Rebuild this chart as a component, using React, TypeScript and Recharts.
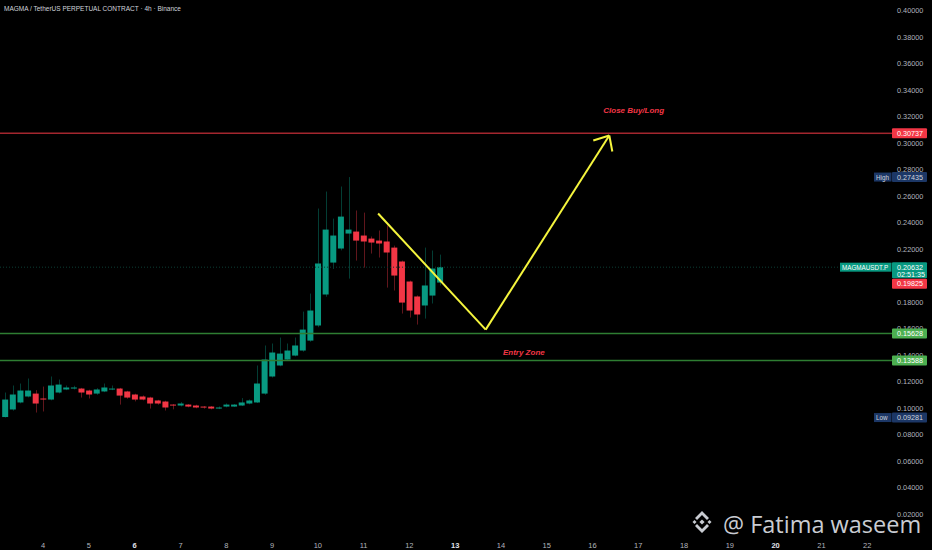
import React from "react";
import { ComposedChart, Bar, XAxis, YAxis, ReferenceLine, ReferenceDot } from "recharts";

// 4h candles (index 0 = first visible candle)
const opens = [
  0.0932, 0.0989, 0.1042, 0.1087, 0.1109, 0.1072, 0.1064, 0.1117, 0.114, 0.1147,
  0.1147, 0.1132, 0.1109, 0.1125, 0.114, 0.1147, 0.1125, 0.1102, 0.1087, 0.1079,
  0.1057, 0.1049, 0.1026, 0.1019, 0.1026, 0.1019, 0.1011, 0.1011, 0.0996, 0.1011,
  0.1011, 0.1019, 0.1034, 0.1042, 0.1109, 0.1238, 0.1321, 0.1366, 0.1396, 0.1434,
  0.1509, 0.1623, 0.1857, 0.2098, 0.2204, 0.2317, 0.2332, 0.2302, 0.2279, 0.2264,
  0.2257, 0.2211, 0.2106, 0.1955, 0.1842, 0.1774, 0.1849, 0.1947,
];
const highs = [
  0.1117, 0.117, 0.1185, 0.1223, 0.1135, 0.1162, 0.1238, 0.1215, 0.117, 0.1168,
  0.1152, 0.1138, 0.115, 0.1185, 0.117, 0.1152, 0.113, 0.1108, 0.1095, 0.1085,
  0.1062, 0.1055, 0.103, 0.1045, 0.103, 0.1025, 0.1015, 0.1015, 0.1012, 0.1035,
  0.103, 0.1075, 0.1065, 0.1321, 0.1472, 0.1487, 0.1532, 0.1487, 0.1532, 0.1728,
  0.1864, 0.2506, 0.2634, 0.243, 0.2672, 0.27435, 0.2491, 0.2475, 0.2295, 0.234,
  0.2377, 0.2226, 0.2113, 0.1962, 0.185, 0.2211, 0.2189, 0.2158,
];
const lows = [
  0.09281, 0.098, 0.1035, 0.108, 0.0966, 0.0974, 0.1058, 0.111, 0.1135, 0.114,
  0.1079, 0.1072, 0.11, 0.112, 0.1135, 0.1026, 0.107, 0.105, 0.1058, 0.0996,
  0.1025, 0.0981, 0.099, 0.1012, 0.1005, 0.0998, 0.0995, 0.099, 0.0992, 0.1005,
  0.1008, 0.1015, 0.1028, 0.1038, 0.11, 0.123, 0.1315, 0.1355, 0.139, 0.1425,
  0.15, 0.161, 0.184, 0.205, 0.219, 0.1977, 0.2113, 0.206, 0.2166, 0.2136,
  0.1909, 0.1887, 0.1713, 0.1683, 0.163, 0.1675, 0.1789, 0.1925,
];
const closes = [
  0.1064, 0.1102, 0.1132, 0.1132, 0.1034, 0.1064, 0.117, 0.1177, 0.1155, 0.1155,
  0.1117, 0.1102, 0.114, 0.1155, 0.1147, 0.1094, 0.1079, 0.1064, 0.1064, 0.1034,
  0.1034, 0.1004, 0.1019, 0.1034, 0.1011, 0.1004, 0.1004, 0.0996, 0.1004, 0.1026,
  0.1026, 0.1042, 0.1057, 0.1185, 0.1366, 0.1419, 0.1411, 0.1434, 0.1472, 0.1592,
  0.1736, 0.2091, 0.2347, 0.2302, 0.2445, 0.2347, 0.2264, 0.2257, 0.2249, 0.2242,
  0.2174, 0.2, 0.1796, 0.1736, 0.1706, 0.1925, 0.2053, 0.20632,
];

const dayLabels = ["4", "5", "6", "7", "8", "9", "10", "11", "12", "13", "14", "15", "16", "17", "18", "19", "20", "21", "22"];
const boldDays = ["6", "13", "20"];
const priceTicks = [0.02, 0.04, 0.06, 0.08, 0.1, 0.12, 0.14, 0.16, 0.18, 0.2, 0.22, 0.24, 0.26, 0.28, 0.3, 0.32, 0.34, 0.36, 0.38, 0.4];

const closeTarget = 0.30737;
const entryUpper = 0.15628;
const entryLower = 0.13588;
const sessionHigh = 0.27435;
const sessionLow = 0.09281;
const lastPrice = 0.20632;
const markPrice = 0.19825;

// hand drawn projection (candle index, price)
const pathX = [48.9, 63.0, 79.2];
const pathY = [0.2468, 0.1592, 0.3057];
const arrowX = [77.1, 79.6];
const arrowY = [0.3019, 0.2936];

const FIRST_DAY_INDEX = 5;
const CANDLES_PER_DAY = 6;
const X_DOMAIN: [number, number] = [-0.655, 112.32];
const Y_DOMAIN: [number, number] = [0.0034, 0.408];

const UP = "#089981";
const DOWN = "#f23645";
const AXIS_FONT = "'Liberation Sans', Arial, sans-serif";
const YELLOW = "#f5f53d";

const candles = opens.map((o, i) => ({ i, open: o, high: highs[i], low: lows[i], close: closes[i] }));
const dayTicks = dayLabels.map((_, k) => FIRST_DAY_INDEX + CANDLES_PER_DAY * k);

function Candle(props: any) {
  const { x, y, width, height, payload } = props;
  const { open, close, high, low } = payload;
  const top = Math.min(y, y + height);
  const bottom = Math.max(y, y + height);
  const toPx = (v: number) => bottom - ((v - low) / (high - low)) * (bottom - top);
  const color = close >= open ? UP : DOWN;
  const cx = Math.round(x + width / 2) + 0.5;
  const bTop = toPx(Math.max(open, close));
  const bBot = toPx(Math.min(open, close));
  return (
    <g>
      <line x1={cx} x2={cx} y1={top} y2={bottom} stroke={color} strokeOpacity={0.4} strokeWidth={1} />
      <rect x={x} y={bTop} width={width} height={Math.max(1, bBot - bTop)} fill={color} />
    </g>
  );
}

function DayTick(props: any) {
  const { x, y, payload } = props;
  const label = dayLabels[(payload.value - FIRST_DAY_INDEX) / CANDLES_PER_DAY];
  const bold = boldDays.includes(label);
  return (
    <text x={x} y={y + 11.5} textAnchor="middle" fontSize={7.5} fontFamily={AXIS_FONT}
      fill={bold ? "#e0e3eb" : "#b2b5be"} fontWeight={bold ? "bold" : "normal"}>
      {label}
    </text>
  );
}

function PriceTick(props: any) {
  const { x, y, payload } = props;
  return (
    <text x={x + 35} y={y} dominantBaseline="central" fontSize={7.3} fontFamily={AXIS_FONT} fill="#b2b5be">
      {payload.value.toFixed(5)}
    </text>
  );
}

type TagOpts = { fill: string; dy?: number; lineColor?: string; prefix?: string; prefixFill?: string; sub?: string; textFill?: string };

function tag(text: string, o: TagOpts) {
  return (props: any) => {
    const vb = props.viewBox;
    const right = vb.x + vb.width;
    const yy = vb.y + (o.dy || 0);
    const tf = o.textFill || "#ffffff";
    const h = o.sub ? 16 : 10;
    const wide = o.prefix && o.prefix.length > 5;
    return (
      <g fontFamily={AXIS_FONT} fontSize={7.2}>
        {o.lineColor && <line x1={right} x2={right + 30} y1={vb.y} y2={vb.y} stroke={o.lineColor} strokeWidth={1.5} />}
        {o.prefix && (
          <g>
            <rect x={wide ? right - 22 : right + 12} y={yy - 4.5} width={wide ? 51.5 : 17.5} height={9} fill={o.prefixFill || o.fill} />
            <text x={wide ? right - 20 : right + 14} y={yy} dominantBaseline="central" fill={tf} fontSize={6.3}>
              {o.prefix}
            </text>
          </g>
        )}
        <rect x={right + 30} y={yy - 5} width={35} height={h} fill={o.fill} rx={1} />
        <text x={right + 35} y={yy} dominantBaseline="central" fill={tf}>{text}</text>
        {o.sub && (
          <text x={right + 35} y={yy + 7} dominantBaseline="central" fill={tf}>{o.sub}</text>
        )}
      </g>
    );
  };
}

function BinanceLogo({ cx, cy }: { cx: number; cy: number }) {
  const d = (x: number, y: number, s: number) => `${cx + x},${cy + y - s} ${cx + x + s},${cy + y} ${cx + x},${cy + y + s} ${cx + x - s},${cy + y}`;
  return (
    <g fill="#c9ccd2">
      <polygon points={d(0, 0, 2.6)} />
      <polygon points={d(-7.5, 0, 2)} />
      <polygon points={d(7.5, 0, 2)} />
      <polygon points={`${cx},${cy - 11} ${cx + 7},${cy - 4} ${cx + 5},${cy - 2} ${cx},${cy - 7} ${cx - 5},${cy - 2} ${cx - 7},${cy - 4}`} />
      <polygon points={`${cx},${cy + 11} ${cx + 7},${cy + 4} ${cx + 5},${cy + 2} ${cx},${cy + 7} ${cx - 5},${cy + 2} ${cx - 7},${cy + 4}`} />
    </g>
  );
}

export default function App() {
  return (
    <div style={{ position: "absolute", left: 0, top: 0, width: 932, height: 550, background: "#000000", overflow: "hidden" }}>
      <ComposedChart width={932} height={550} data={candles} margin={{ top: 0, right: 0, bottom: 0, left: 0 }}>
        <XAxis
          dataKey="i"
          type="number"
          domain={X_DOMAIN}
          allowDataOverflow
          ticks={dayTicks}
          interval={0}
          height={14}
          tickSize={0}
          tickMargin={0}
          axisLine={false}
          tickLine={false}
          tick={<DayTick />}
        />
        <YAxis
          orientation="right"
          type="number"
          domain={Y_DOMAIN}
          allowDataOverflow
          ticks={priceTicks}
          interval={0}
          width={70}
          tickSize={0}
          tickMargin={0}
          axisLine={false}
          tickLine={false}
          tick={<PriceTick />}
        />
        <ReferenceLine y={lastPrice} stroke="#0c3d35" strokeDasharray="1 2" />
        <ReferenceLine y={closeTarget} stroke="#a3262e" strokeWidth={1.5} />
        <ReferenceLine y={entryUpper} stroke="#2e7d32" strokeWidth={1.5} />
        <ReferenceLine y={entryLower} stroke="#2e7d32" strokeWidth={1.5} />

        <Bar dataKey={(d: any) => [d.low, d.high]} barSize={6} shape={<Candle />} isAnimationActive={false} />

        <ReferenceLine segment={[{ x: pathX[0], y: pathY[0] }, { x: pathX[1], y: pathY[1] }]} stroke={YELLOW} strokeWidth={2} />
        <ReferenceLine segment={[{ x: pathX[1], y: pathY[1] }, { x: pathX[2], y: pathY[2] }]} stroke={YELLOW} strokeWidth={2} />
        <ReferenceLine segment={[{ x: arrowX[0], y: arrowY[0] }, { x: pathX[2], y: pathY[2] }]} stroke={YELLOW} strokeWidth={2} />
        <ReferenceLine segment={[{ x: arrowX[1], y: arrowY[1] }, { x: pathX[2], y: pathY[2] }]} stroke={YELLOW} strokeWidth={2} />

        <ReferenceDot x={82.4} y={0.3245} r={0} fill="none" stroke="none"
          label={{ value: "Close Buy/Long", position: "center", fill: DOWN, fontSize: 8, fontStyle: "italic", fontWeight: "bold", fontFamily: AXIS_FONT }} />
        <ReferenceDot x={68.0} y={0.1425} r={0} fill="none" stroke="none"
          label={{ value: "Entry Zone", position: "center", fill: DOWN, fontSize: 8, fontStyle: "italic", fontWeight: "bold", fontFamily: AXIS_FONT }} />
      </ComposedChart>

      {/* price-scale tags sit above the tick labels, so they get their own layer with the same scales */}
      <div style={{ position: "absolute", left: 0, top: 0 }}>
        <ComposedChart width={932} height={550} data={candles} margin={{ top: 0, right: 70, bottom: 14, left: 0 }}>
          <XAxis hide dataKey="i" type="number" domain={X_DOMAIN} allowDataOverflow />
          <YAxis hide orientation="right" type="number" domain={Y_DOMAIN} allowDataOverflow />
          <ReferenceLine y={lastPrice} stroke="none"
            label={tag(lastPrice.toFixed(5), { fill: UP, prefix: "MAGMAUSDT.P", sub: "02:51:35" })} />
          <ReferenceLine y={markPrice} stroke="none" label={tag(markPrice.toFixed(5), { fill: DOWN, dy: 6 })} />
          <ReferenceLine y={closeTarget} stroke="none"
            label={tag(closeTarget.toFixed(5), { fill: DOWN, lineColor: "#a3262e" })} />
          <ReferenceLine y={entryUpper} stroke="none"
            label={tag(entryUpper.toFixed(5), { fill: "#4caf50", lineColor: "#2e7d32" })} />
          <ReferenceLine y={entryLower} stroke="none"
            label={tag(entryLower.toFixed(5), { fill: "#4caf50", lineColor: "#2e7d32" })} />
          <ReferenceLine y={sessionHigh} stroke="none"
            label={tag(sessionHigh.toFixed(5), { fill: "#1c3766", prefix: "High", textFill: "#d1d4dc" })} />
          <ReferenceLine y={sessionLow} stroke="none"
            label={tag(sessionLow.toFixed(5), { fill: "#1c3766", prefix: "Low", textFill: "#d1d4dc" })} />
        </ComposedChart>
      </div>

      <svg width={932} height={550} style={{ position: "absolute", left: 0, top: 0, pointerEvents: "none" }}>
        <text x={4} y={8} dominantBaseline="central" fontSize={6.5} fontFamily={AXIS_FONT} fill="#d1d4dc">
          MAGMA / TetherUS PERPETUAL CONTRACT · 4h · Binance
        </text>
        <BinanceLogo cx={702} cy={522} />
        <text x={723} y={533} fontSize={23.5} fontFamily="'Open Sans', sans-serif" fill="#c9ccd2">
          @ Fatima waseem
        </text>
      </svg>
    </div>
  );
}
